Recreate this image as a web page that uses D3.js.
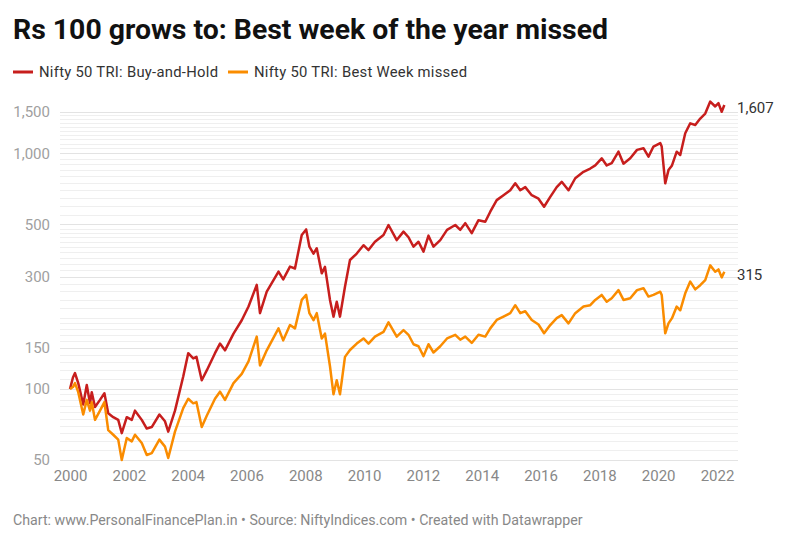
<!DOCTYPE html>
<html>
<head>
<meta charset="utf-8">
<script src="https://cdn.jsdelivr.net/npm/d3@7"></script>
<style>
  body { margin: 0; background: #fff; }
  svg { font-family: Roboto, "Noto Sans", sans-serif; }
</style>
</head>
<body>
<svg width="800" height="542"></svg>
<script>
// dates as decimal years
var years = [
  2000.00, 2000.10, 2000.17, 2000.28, 2000.45, 2000.57, 2000.68, 2000.74, 2000.85,
  2001.02, 2001.17, 2001.30, 2001.47, 2001.64, 2001.76, 2001.93,
  2002.10, 2002.21, 2002.44, 2002.61, 2002.78,
  2003.04, 2003.23, 2003.34, 2003.57, 2003.85,
  2004.02, 2004.19, 2004.30, 2004.48, 2004.65, 2004.93,
  2005.10, 2005.27, 2005.56, 2005.84,
  2006.07, 2006.35, 2006.46, 2006.69,
  2007.09, 2007.25, 2007.48, 2007.65, 2007.88,
  2008.03, 2008.14, 2008.28, 2008.39, 2008.56, 2008.67, 2008.84, 2008.96,
  2009.07, 2009.18, 2009.35, 2009.52, 2009.75, 2009.98,
  2010.15, 2010.37, 2010.66, 2010.83,
  2011.11, 2011.34, 2011.51, 2011.68, 2011.85,
  2012.02, 2012.19, 2012.36, 2012.59, 2012.82,
  2013.10, 2013.27, 2013.44, 2013.66, 2013.89,
  2014.12, 2014.29, 2014.51, 2014.74, 2014.97,
  2015.14, 2015.31, 2015.48, 2015.70, 2015.93,
  2016.12, 2016.33, 2016.55, 2016.72, 2016.95,
  2017.18, 2017.46, 2017.69, 2017.86,
  2018.08, 2018.25, 2018.42, 2018.65, 2018.82,
  2019.05, 2019.28, 2019.50, 2019.67, 2019.84,
  2020.07, 2020.12, 2020.24, 2020.35, 2020.47, 2020.63, 2020.75, 2020.92,
  2021.09, 2021.26, 2021.43, 2021.60, 2021.77, 2021.94,
  2022.05, 2022.16, 2022.25
];

var buyHold = [
  100, 112, 117, 106, 86, 104, 87, 97, 84,
  90, 96, 79, 76, 74, 65, 76,
  74, 81, 74, 68, 69,
  78, 73, 66, 81, 113,
  142, 135, 137, 109, 120, 142,
  156, 146, 172, 196,
  224, 277, 210, 259,
  315, 292, 331, 325, 451,
  476, 402, 376, 396, 310, 330, 239, 203,
  235, 203, 272, 353, 376, 408,
  389, 422, 451, 497,
  429, 466, 441, 402, 422,
  383, 448, 402, 429, 474,
  497, 474, 506, 459, 521,
  513, 566, 634, 665, 698,
  747, 698, 720, 665, 643,
  594, 654, 720, 758, 698,
  785, 836, 863, 890,
  954, 890, 910, 1018, 905,
  954, 1036, 1053, 970, 1070,
  1107, 1070, 747, 850, 890, 1018, 985, 1218,
  1343, 1321, 1407, 1477, 1661, 1583,
  1635, 1504, 1607
];

var bestMissed = [
  100, 102, 106, 97, 78, 90, 81, 88, 74,
  81, 88, 67, 64, 61, 50, 62,
  60, 64, 59, 52.5, 53.5,
  61, 57, 51, 66, 83,
  91, 87, 88, 69, 77, 91,
  97.5, 90, 106, 116,
  131, 167, 126, 146,
  181, 161, 187, 181, 239,
  251, 210, 196, 210, 164, 172, 125, 95,
  109, 95, 137, 146.5, 156, 164,
  156, 167, 175, 192,
  167, 178, 170, 155, 152,
  138, 155, 143, 152, 164,
  170, 162, 167, 157, 170,
  167, 181, 196.5, 203, 210,
  227, 210, 214, 196.5, 188,
  172.5, 187, 200, 206, 190,
  210, 224, 227, 239,
  251, 235, 243, 263, 239,
  243, 263, 268, 247, 251,
  259, 251, 172.5, 190, 200, 224, 216, 255,
  286, 265, 276, 290, 335, 315,
  322, 298, 315
];

var yTickValues = [50, 100, 150, 300, 500, 1000, 1500];
var xTickValues = d3.range(2000, 2023, 2);
// minor grid: [from, to, step]
var gridBands = [[50, 100, 5], [100, 200, 10], [200, 500, 20], [500, 1500, 50]];

var svg = d3.select('svg');

var x = d3.scaleLinear().domain([2000, 2022]).range([70, 717]);
var y = d3.scaleLog().domain([50, 1500]).range([460, 112]);

var gridValues = [];
gridBands.forEach(function(b){
  d3.range(b[0], b[1] + 0.001, b[2]).forEach(function(v){
    if (gridValues.indexOf(v) < 0) gridValues.push(v);
  });
});

// title
svg.append('text')
  .attr('x', 13).attr('y', 39)
  .attr('font-size', 28.4).attr('font-weight', 700).attr('fill', '#111')
  .text('Rs 100 grows to: Best week of the year missed');

// legend
var legend = [
  {name: 'Nifty 50 TRI: Buy-and-Hold', color: '#c71e1d', x: 13, w: 179},
  {name: 'Nifty 50 TRI: Best Week missed', color: '#fa8c00', x: 228, w: 213}
];
var lg = svg.selectAll('g.legend').data(legend).enter().append('g')
  .attr('class', 'legend')
  .attr('transform', function(d){ return 'translate(' + d.x + ',72)'; });
lg.append('line')
  .attr('x1', 0).attr('x2', 20).attr('y1', 0).attr('y2', 0)
  .attr('stroke', function(d){ return d.color; })
  .attr('stroke-width', 3);
lg.append('text')
  .attr('x', 26).attr('y', 5)
  .attr('font-size', 14.8).attr('fill', '#333')
  .attr('textLength', function(d){ return d.w; })
  .attr('lengthAdjust', 'spacing')
  .text(function(d){ return d.name; });

// grid
svg.append('g').selectAll('line').data(gridValues).enter().append('line')
  .attr('x1', 60).attr('x2', 738)
  .attr('y1', function(d){ return Math.round(y(d)) + 0.5; })
  .attr('y2', function(d){ return Math.round(y(d)) + 0.5; })
  .attr('stroke', function(d){ return yTickValues.indexOf(d) >= 0 ? '#e3e3e3' : '#efefef'; })
  .attr('stroke-width', 1);

// y axis labels
var yAxis = d3.axisLeft(y)
  .tickValues(yTickValues)
  .tickSize(0)
  .tickPadding(0)
  .tickFormat(d3.format(','));
svg.append('g')
  .attr('transform', 'translate(50,0)')
  .call(yAxis)
  .call(function(g){
    g.select('.domain').remove();
    g.selectAll('text').attr('font-size', 15).attr('fill', '#a0a0a0')
      .attr('font-family', 'Roboto, sans-serif');
  });

// x axis labels
var xAxis = d3.axisBottom(x)
  .tickValues(xTickValues)
  .tickSize(0)
  .tickPadding(0)
  .tickFormat(d3.format('d'));
svg.append('g')
  .attr('transform', 'translate(0,470)')
  .call(xAxis)
  .call(function(g){
    g.select('.domain').remove();
    g.selectAll('text').attr('font-size', 15).attr('fill', '#888')
      .attr('font-family', 'Roboto, sans-serif');
  });

// lines
var series = [
  {values: buyHold, color: '#c71e1d', label: '1,607'},
  {values: bestMissed, color: '#fa8c00', label: '315'}
];
var line = d3.line()
  .x(function(d, i){ return x(years[i]); })
  .y(function(d){ return y(d); });

svg.selectAll('path.series').data(series).enter().append('path')
  .attr('class', 'series')
  .attr('d', function(d){ return line(d.values); })
  .attr('fill', 'none')
  .attr('stroke', function(d){ return d.color; })
  .attr('stroke-width', 2.5)
  .attr('stroke-linejoin', 'round');

svg.selectAll('text.endlabel').data(series).enter().append('text')
  .attr('class', 'endlabel')
  .attr('x', 737)
  .attr('y', function(d){ return y(d.values[d.values.length - 1]) + 8; })
  .attr('font-size', 15).attr('fill', '#333')
  .text(function(d){ return d.label; });

// footer
svg.append('text')
  .attr('x', 13).attr('y', 525)
  .attr('font-size', 14.2).attr('fill', '#888')
  .text('Chart: www.PersonalFinancePlan.in \u2022 Source: NiftyIndices.com \u2022 Created with Datawrapper');
</script>
</body>
</html>
